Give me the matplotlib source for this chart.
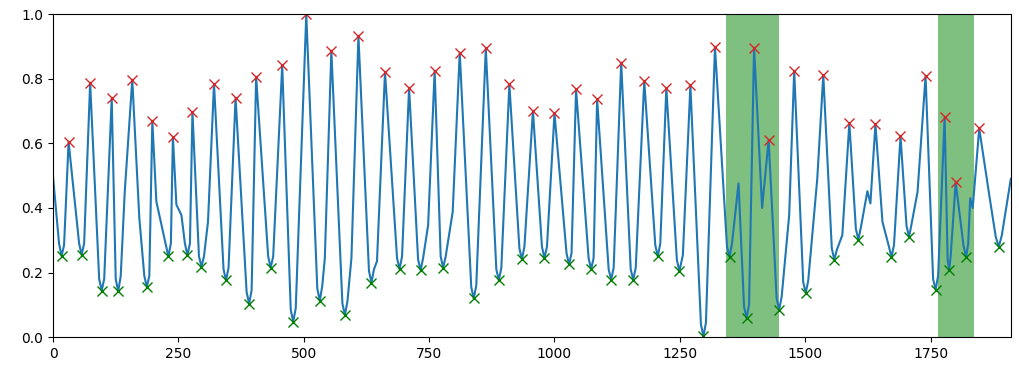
import matplotlib
matplotlib.use("Agg")
from matplotlib import pyplot as plt

# detected peaks (red x)
peaks_x = [31, 74, 117, 158, 198, 239, 278, 321, 364, 405, 457, 505, 555, 609, 662, 710,
           761, 811, 863, 910, 957, 1000, 1043, 1085, 1133, 1179, 1223, 1271, 1320, 1398,
           1427, 1478, 1536, 1588, 1640, 1690, 1740, 1778, 1800, 1847]
peaks_y = [0.605, 0.788, 0.739, 0.797, 0.67, 0.62, 0.697, 0.784, 0.741, 0.806, 0.841, 0.999,
           0.887, 0.932, 0.82, 0.772, 0.824, 0.881, 0.894, 0.783, 0.70, 0.693, 0.767, 0.736,
           0.850, 0.793, 0.771, 0.779, 0.899, 0.896, 0.61, 0.824, 0.811, 0.663, 0.66, 0.622,
           0.809, 0.68, 0.479, 0.646]

# detected valleys (green x)
valleys_x = [17, 57, 97, 130, 187, 230, 268, 296, 345, 391, 434, 479, 532, 582, 635, 691,
             733, 778, 839, 889, 935, 980, 1029, 1073, 1113, 1157, 1206, 1249, 1297, 1349,
             1383, 1448, 1501, 1558, 1606, 1672, 1707, 1760, 1787, 1821, 1886]
valleys_y = [0.251, 0.255, 0.144, 0.142, 0.155, 0.25, 0.254, 0.218, 0.176, 0.104, 0.215,
             0.048, 0.113, 0.068, 0.169, 0.21, 0.207, 0.215, 0.12, 0.176, 0.241, 0.245,
             0.225, 0.21, 0.178, 0.178, 0.25, 0.204, 0.003, 0.248, 0.059, 0.085, 0.137,
             0.24, 0.302, 0.248, 0.31, 0.147, 0.207, 0.248, 0.28]

# other points of the signal (ends, shoulders, small bumps)
other_x = [0, 143, 172, 206, 246, 256, 309, 542, 595, 646, 748, 797, 1256, 1367, 1414,
           1468, 1524, 1574, 1624, 1630, 1654, 1724, 1829, 1834, 1866, 1910]
other_y = [0.496, 0.45, 0.37, 0.42, 0.41, 0.378, 0.357, 0.245, 0.244, 0.235, 0.347, 0.388,
           0.254, 0.476, 0.40, 0.378, 0.49, 0.316, 0.452, 0.414, 0.357, 0.45, 0.43, 0.40,
           0.45, 0.49]

# points on either side of the valley bottoms
flank_x = [12, 22, 52, 62, 92, 102, 125, 135, 182, 192, 225, 235, 263, 273, 291, 301,
           340, 350, 386, 396, 429, 439, 474, 484, 527, 537, 577, 587, 630, 640, 686, 696,
           728, 738, 773, 783, 834, 844, 884, 894, 930, 940, 975, 985, 1024, 1034, 1068, 1078,
           1108, 1118, 1152, 1162, 1201, 1211, 1244, 1292, 1302, 1344, 1354, 1378, 1388,
           1443, 1453, 1496, 1506, 1553, 1563, 1601, 1611, 1667, 1677, 1702, 1712, 1755, 1765,
           1784, 1790, 1816, 1825, 1880, 1892]
flank_y = [0.29, 0.285, 0.29, 0.29, 0.18, 0.18, 0.18, 0.19, 0.19, 0.19, 0.285, 0.29, 0.29,
           0.29, 0.25, 0.25, 0.21, 0.215, 0.14, 0.145, 0.25, 0.25, 0.085, 0.09, 0.15, 0.16,
           0.105, 0.11, 0.205, 0.21, 0.245, 0.25, 0.24, 0.245, 0.25, 0.25, 0.155, 0.16, 0.21,
           0.215, 0.275, 0.28, 0.28, 0.28, 0.26, 0.26, 0.245, 0.245, 0.21, 0.215, 0.21, 0.215,
           0.285, 0.29, 0.24, 0.04, 0.045, 0.28, 0.29, 0.095, 0.1, 0.12, 0.125, 0.17, 0.175,
           0.275, 0.27, 0.335, 0.34, 0.28, 0.285, 0.345, 0.35, 0.18, 0.19, 0.24, 0.25, 0.28,
           0.29, 0.31, 0.315]

# highlighted intervals
spans = [(1343, 1448), (1765, 1837)]

pts = sorted(zip(peaks_x + valleys_x + other_x + flank_x,
                 peaks_y + valleys_y + other_y + flank_y))
sig_x = [p[0] for p in pts]
sig_y = [p[1] for p in pts]

fig = plt.figure(figsize=(10.2, 3.81), dpi=100)
plt.subplots_adjust(left=0.052, right=0.991, top=0.963, bottom=0.115)
for a, b in spans:
    plt.axvspan(a, b, color='green', alpha=0.5, lw=0)
plt.plot(sig_x, sig_y, color='C0', lw=1.5)
plt.plot(peaks_x, peaks_y, 'x', color='C3', ms=7)
plt.plot(valleys_x, valleys_y, 'x', color='green', ms=7)
plt.xlim(0, 1910)
plt.ylim(0, 1)
plt.savefig('out.png')
